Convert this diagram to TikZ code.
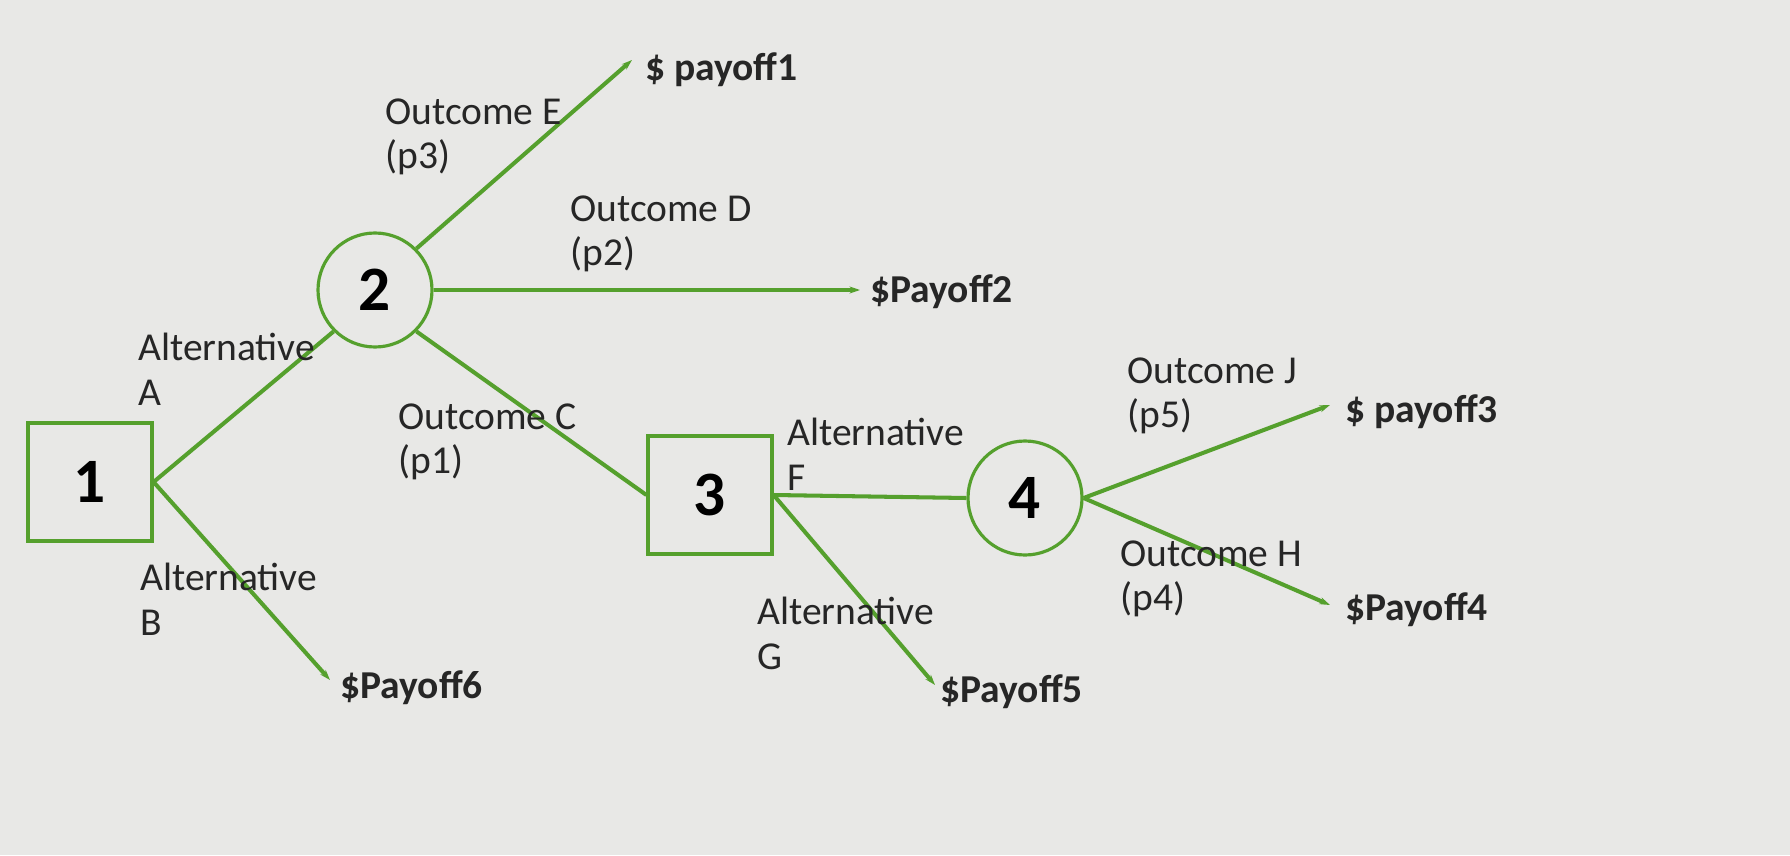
\documentclass[tikz,border=0pt]{standalone}
\usepackage{fontspec}
\setmainfont{Carlito}
\usetikzlibrary{arrows.meta}
\definecolor{grn}{RGB}{85,160,45}
\definecolor{bg}{RGB}{232,232,230}
\tikzset{
 lbl/.style={anchor=north west,inner sep=0pt,align=left,font=\fontsize{22.5}{25.5}\selectfont,text=black!85},
 pay/.style={anchor=west,inner sep=0pt,font=\fontsize{22.5}{25.5}\selectfont\bfseries,text=black!85},
 dec/.style={draw=grn,line width=1.8pt,minimum width=124*0.02cm,minimum height=118*0.02cm,font=\fontsize{36}{40}\selectfont\bfseries,inner sep=0pt},
 chc/.style={draw=grn,line width=1.8pt,circle,minimum size=114*0.02cm,font=\fontsize{36}{40}\selectfont\bfseries,inner sep=0pt},
 br/.style={draw=grn,line width=2.3pt},
 ar/.style={br,-{Stealth[length=6pt,width=4pt]}}
}
\begin{document}
\begin{tikzpicture}[x=0.02cm,y=-0.02cm]
\fill[bg] (0,0) rectangle (1790,855);
\useasboundingbox (0,0) rectangle (1790,855);
\node[dec] (n1) at (90,482) {1};
\node[chc] (n2) at (375,290) {2};
\node[dec] (n3) at (710,495) {3};
\node[chc] (n4) at (1025,498) {4};
\coordinate (p1) at (632,60);
\coordinate (p2) at (860,290);
\coordinate (p3) at (1330,405);
\coordinate (p4) at (1330,605);
\coordinate (p5) at (935,685);
\coordinate (p6) at (330,680);
\draw[br] (n1.east) -- (n2.225);
\draw[ar] (n1.east) -- (p6);
\draw[ar] (n2.45) -- (p1);
\draw[ar] (n2.east) -- (p2);
\draw[br] (n2.-45) -- (n3.west);
\draw[br] (n3.east) -- (n4.west);
\draw[ar] (n3.east) -- (p5);
\draw[ar] (n4.east) -- (p3);
\draw[ar] (n4.east) -- (p4);
\node[lbl] (t1) at (385,98) {Outcome E\\(p3)};
\node[pay] (q1) at (645,70) {\$ payoff1};
\node[lbl] (t2) at (570,195) {Outcome D\\(p2)};
\node[pay] (q2) at (870,292) {\$Payoff2};
\node[lbl] (t3) at (138,333) {Alternative\\A};
\node[lbl] (t4) at (398,403) {Outcome C\\(p1)};
\node[lbl] (t5) at (787,418) {Alternative\\F};
\node[lbl] (t6) at (1127,357) {Outcome J\\(p5)};
\node[pay] (q3) at (1345,412) {\$ payoff3};
\node[lbl] (t7) at (1120,540) {Outcome H\\(p4)};
\node[pay] (q4) at (1345,610) {\$Payoff4};
\node[lbl] (t8) at (140,563) {Alternative\\B};
\node[pay] (q6) at (340,688) {\$Payoff6};
\node[lbl] (t9) at (757,597) {Alternative\\G};
\node[pay] (q5) at (940,692) {\$Payoff5};
\end{tikzpicture}
\end{document}
